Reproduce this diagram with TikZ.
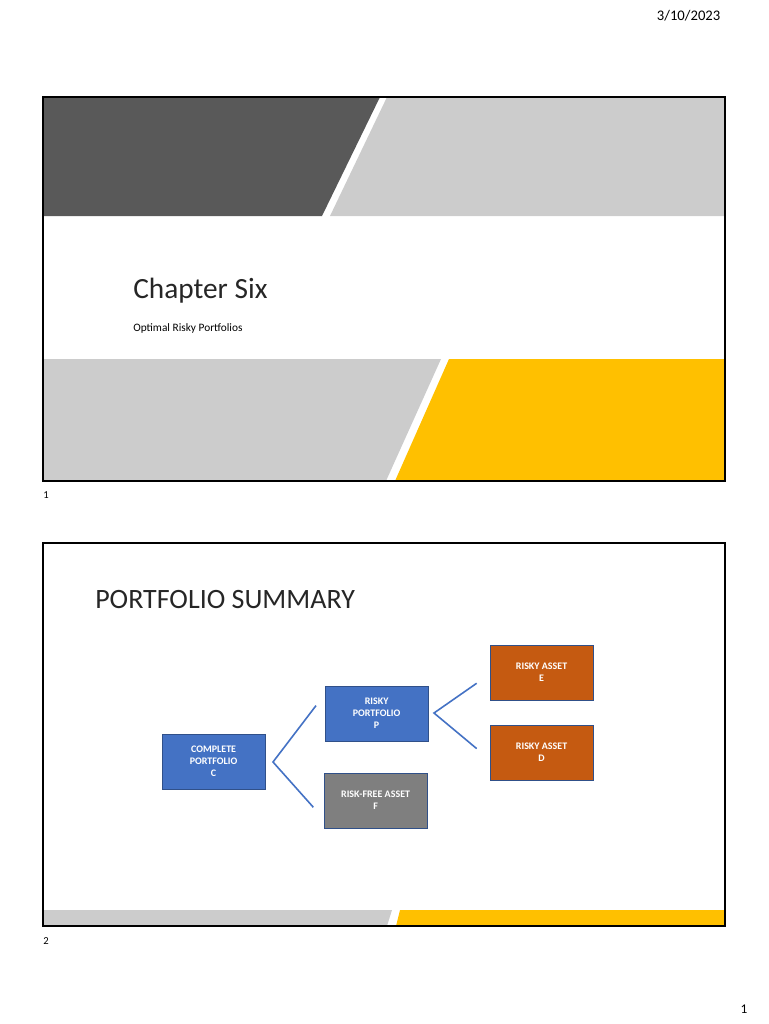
\documentclass[tikz,border=0pt]{standalone}
\usepackage{fontspec}
\setmainfont{Carlito}
\usetikzlibrary{positioning}
\definecolor{boxblue}{HTML}{4472C4}
\definecolor{boxorange}{HTML}{C55A11}
\definecolor{boxgray}{HTML}{7F7F7F}
\definecolor{bandyellow}{HTML}{FFC000}
\definecolor{banddark}{HTML}{595959}
\definecolor{bandlight}{HTML}{CCCCCC}
\tikzstyle{unit}=[draw=boxblue!70!black,text=white,font=\fontsize{7.5}{9}\selectfont\bfseries,align=center,minimum width=77pt,minimum height=41pt,inner sep=1pt,anchor=north west]
\tikzstyle{link}=[draw=boxblue,line width=1.2pt]
\begin{document}
\begin{tikzpicture}[x=0.75pt,y=-0.75pt]
		\useasboundingbox (0,0) rectangle (768,1024);
		% page
		\node[anchor=north east,font=\fontsize{11}{13}\selectfont] (date) at (725,6) {3/10/2023};
		\node[anchor=south east,font=\fontsize{10}{12}\selectfont] (page) at (752,1018) {1};

		% slide one
		\fill[banddark] (43,97) -- (380,97) -- (322,216) -- (43,216) -- cycle;
		\fill[bandlight] (387,97) -- (725,97) -- (725,216) -- (330,216) -- cycle;
		\fill[bandlight] (43,359) -- (441,359) -- (386,481) -- (43,481) -- cycle;
		\fill[bandyellow] (449,359) -- (725,359) -- (725,481) -- (395,481) -- cycle;
		\draw[line width=1pt] (43,97) rectangle (725,481);
		\node[anchor=base west,font=\fontsize{22}{26}\selectfont,text=black!85,inner sep=0] (title1) at (133,298) {Chapter Six};
		\node[anchor=base west,font=\fontsize{8.5}{10}\selectfont,inner sep=0] (sub1) at (133,331) {Optimal Risky Portfolios};
		\node[anchor=base west,font=\fontsize{8}{10}\selectfont,inner sep=0] (num1) at (43,498) {1};

		% slide two
		\fill[bandlight] (43,910) -- (392,910) -- (387,926) -- (43,926) -- cycle;
		\fill[bandyellow] (400,910) -- (725,910) -- (725,926) -- (396,926) -- cycle;
		\draw[line width=1pt] (43,543) rectangle (725,926);
		\node[anchor=base west,font=\fontsize{21}{25}\selectfont,text=black!85,inner sep=0] (title2) at (95,608) {PORTFOLIO SUMMARY};
		\node[anchor=base west,font=\fontsize{8}{10}\selectfont,inner sep=0] (num2) at (43,944) {2};

		% boxes
		\node[unit,fill=boxblue] (complete) at (162,734) {COMPLETE\\PORTFOLIO\\C};
		\node[unit,fill=boxblue] (risky) at (325,686) {RISKY\\PORTFOLIO\\P};
		\node[unit,fill=boxgray] (riskfree) at (324,773) {RISK-FREE ASSET\\F};
		\node[unit,fill=boxorange] (assetE) at (490,645) {RISKY ASSET\\E};
		\node[unit,fill=boxorange] (assetD) at (490,725) {RISKY ASSET\\D};

		% links
		\coordinate (fork1) at (273,762);
		\coordinate (fork2) at (434,713);
		\draw[link] (risky.west) ++(-9,-8) -- (fork1) -- ([xshift=-8pt,yshift=-5pt]riskfree.west);
		\draw[link] ([xshift=-10pt,yshift=-8pt]assetE.west) -- (fork2) -- ([xshift=-10pt,yshift=3pt]assetD.west);
	\end{tikzpicture}
\end{document}
